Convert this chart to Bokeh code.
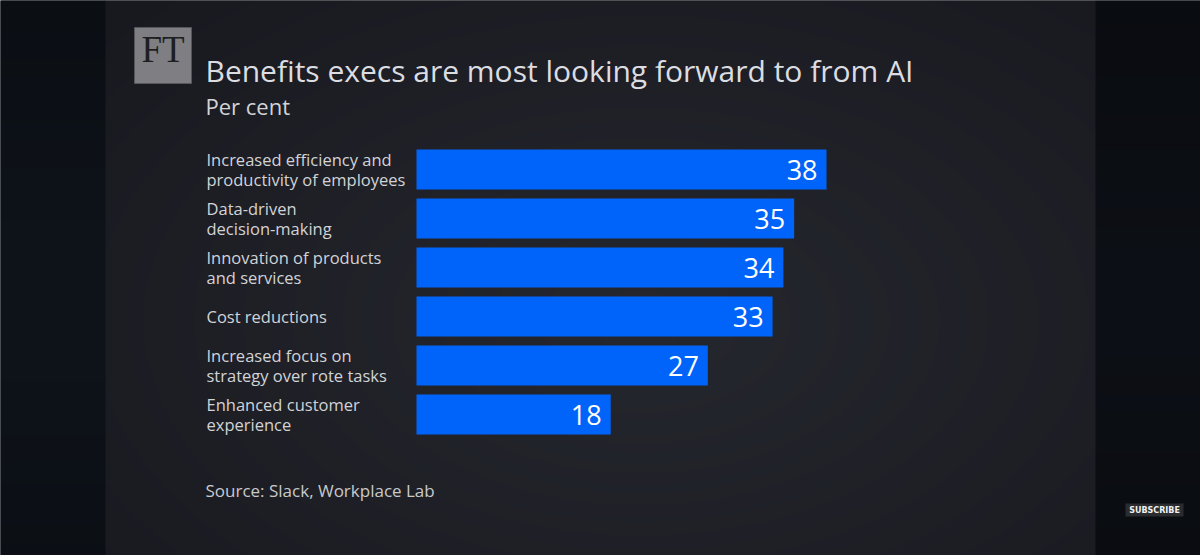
import numpy as np
from bokeh.plotting import figure
from bokeh.models import Range1d, Label, ColumnDataSource
from bokeh.core.properties import value
from bokeh.embed import file_html
from bokeh.resources import INLINE

# ---- chart data -------------------------------------------------------------
categories = [
    "Increased efficiency and\nproductivity of employees",
    "Data-driven\ndecision-making",
    "Innovation of products\nand services",
    "Cost reductions",
    "Increased focus on\nstrategy over rote tasks",
    "Enhanced customer\nexperience",
]
values = [38, 35, 34, 33, 27, 18]
value_labels = [str(v) for v in values]

title_text = "Benefits execs are most looking forward to from AI"
subtitle_text = "Per cent"
source_text = "Source: Slack, Workplace Lab"

# ---- layout -----------------------------------------------------------------
W, H = 1200, 555
FONT = "Open Sans"
BAR_LEFT = 416          # px where the value axis starts
PX_PER_UNIT = 10.79     # px per percentage point
ROW = 49                # px between bar centres
FIRST_ROW = 169         # px from top to centre of first bar

x_start = -BAR_LEFT / PX_PER_UNIT
x_end = (W - BAR_LEFT) / PX_PER_UNIT
y_top = -FIRST_ROW / ROW
y_bottom = (H - FIRST_ROW) / ROW

p = figure(width=W, height=H,
           x_range=Range1d(x_start, x_end),
           y_range=Range1d(y_bottom, y_top),
           x_axis_location=None, y_axis_location=None,
           min_border=0, toolbar_location=None, output_backend="svg")
p.grid.visible = False
p.outline_line_color = None
p.background_fill_color = "#111419"
p.border_fill_color = "#111419"

# pixel-space ranges for decoration
p.extra_x_ranges = {"px": Range1d(0, W)}
p.extra_y_ranges = {"px": Range1d(H, 0), "bg": Range1d(0, H)}

# ---- background gradient ----------------------------------------------------
yy, xx = np.mgrid[0:H, 0:W].astype(float)
d = np.sqrt(((xx - 640) / 620) ** 2 + ((yy - 320) / 380) ** 2)
t = np.clip(d, 0, 1.2) / 1.2
inner = np.array([38, 40, 47], float)
outer = np.array([24, 25, 31], float)
rgb = inner[None, None, :] * (1 - t[..., None]) + outer[None, None, :] * t[..., None]

left_strip = xx < 107
right_strip = xx >= 1093
side_l = np.array([15, 20, 27], float)
side_r = np.array([13, 16, 22], float)
fade = (1 - 0.25 * np.abs(yy - 300) / 300)[..., None]
rgb = np.where(left_strip[..., None], side_l * fade, rgb)
rgb = np.where(right_strip[..., None], side_r * fade, rgb)

img = np.empty((H, W), dtype=np.uint32)
view = img.view(dtype=np.uint8).reshape((H, W, 4))
view[..., 0] = rgb[..., 0].astype(np.uint8)
view[..., 1] = rgb[..., 1].astype(np.uint8)
view[..., 2] = rgb[..., 2].astype(np.uint8)
view[..., 3] = 255
img = np.flipud(img)
p.image_rgba(image=[img], x=-2, y=-2, dw=W + 4, dh=H + 4,
             x_range_name="px", y_range_name="bg")

# ---- bars -------------------------------------------------------------------
rows = list(range(len(categories)))
src = ColumnDataSource(dict(y=rows, v=values, cat=categories, lab=value_labels,
                            x0=[0] * len(values), lx=[206] * len(values)))

p.hbar(y="y", left="x0", right="v", height=40 / ROW, source=src,
       fill_color="#0064fa", line_color=None)

p.text(x="v", y="y", text="lab", source=src, x_offset=-9,
       text_align="right", text_baseline="middle",
       text_font=value(FONT), text_font_size="27px", text_font_style="normal",
       text_color="#ffffff")

p.text(x="lx", y="y", text="cat", source=src, x_range_name="px",
       text_align="left", text_baseline="middle", text_line_height=0.9,
       text_font=value(FONT), text_font_size="16.5px", text_color="#d2d3d6")

# ---- titles & source --------------------------------------------------------
p.add_layout(Label(x=205, y=H - 70, x_units="screen", y_units="screen",
                   text=title_text, text_font=FONT, text_font_size="30px",
                   text_color="#dcdde0", text_baseline="middle"))
p.add_layout(Label(x=205, y=H - 105, x_units="screen", y_units="screen",
                   text=subtitle_text, text_font=FONT, text_font_size="22px",
                   text_color="#d2d3d6", text_baseline="middle"))
p.add_layout(Label(x=205, y=H - 490, x_units="screen", y_units="screen",
                   text=source_text, text_font=FONT, text_font_size="17px",
                   text_color="#c8c9cc", text_baseline="middle"))

# ---- FT mark ----------------------------------------------------------------
p.quad(left=134, right=191, top=27, bottom=83, x_range_name="px", y_range_name="px",
       fill_color="#7e7e83", line_color="#55565a", line_width=1)
p.text(x=[162.5], y=[49], text=["FT"], x_range_name="px", y_range_name="px",
       text_align="center", text_baseline="middle",
       text_font=value("Liberation Serif"), text_font_size="37px",
       text_color="#1f1f22")

# ---- subscribe tag ----------------------------------------------------------
p.quad(left=1125, right=1183, top=503, bottom=516, x_range_name="px", y_range_name="px",
       fill_color="#2b2c2f", line_color=None)
p.text(x=[1154], y=[510], text=["SUBSCRIBE"], x_range_name="px", y_range_name="px",
       text_align="center", text_baseline="middle",
       text_font=value("DejaVu Sans"), text_font_size="8px", text_font_style="bold",
       text_color="#f0f0f0")

open("out.html", "w").write(file_html(p, INLINE))
